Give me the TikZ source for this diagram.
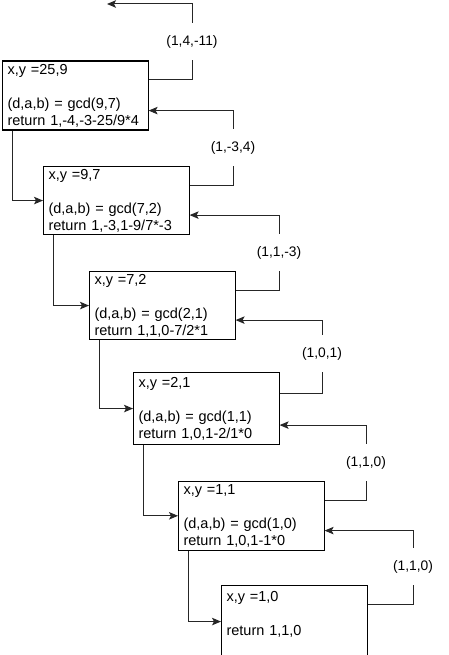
\documentclass[tikz,border=0pt]{standalone}
\usepackage{fontspec}
\setmainfont{Liberation Sans}
\usetikzlibrary{arrows.meta}
\begin{document}
\begin{tikzpicture}[x=1pt,y=-1pt,
  callbox/.style={draw=black,line width=1.1pt,anchor=north west,
    minimum width=145.5pt,text width=135.5pt,inner xsep=5pt,inner ysep=0pt,
    align=left,font=\fontsize{14.5}{16.9}\selectfont},
  retlabel/.style={inner sep=0pt,minimum height=37pt,font=\fontsize{13.8}{16}\selectfont},
  conn/.style={line width=1pt,draw=black!85},
  arr/.style={conn,-{Stealth[length=9pt,width=7.5pt,inset=2pt]}}
]
\useasboundingbox (0,0) rectangle (448,655);
\clip (0,0) rectangle (448,655);

% boxes
\node[callbox,minimum height=69pt] (B1) at (2,60.5)
  {x,y =25,9\\ \mbox{}\\ (d,a,b) = gcd(9,7)\\ return 1,-4,-3-25/9*4};
\node[callbox,minimum height=68pt] (B2) at (43,166)
  {x,y =9,7\\ \mbox{}\\ (d,a,b) = gcd(7,2)\\ return 1,-3,1-9/7*-3};
\node[callbox,minimum height=68pt] (B3) at (89,271)
  {x,y =7,2\\ \mbox{}\\ (d,a,b) = gcd(2,1)\\ return 1,1,0-7/2*1};
\node[callbox,minimum height=72pt] (B4) at (133,372)
  {x,y =2,1\\ \mbox{}\\ (d,a,b) = gcd(1,1)\\ return 1,0,1-2/1*0};
\node[callbox,minimum height=68.5pt] (B5) at (178,481)
  {x,y =1,1\\ \mbox{}\\ (d,a,b) = gcd(1,0)\\ return 1,0,1-1*0};
\node[callbox,minimum height=72pt] (B6) at (221,585)
  {x,y =1,0\\ \mbox{}\\ return 1,1,0\\ \mbox{}};

% return labels
\node[retlabel] (L1) at (192,41.5) {(1,4,-11)};
\node[retlabel] (L2) at (233,147.5) {(1,-3,4)};
\node[retlabel] (L3) at (279,252.5) {(1,1,-3)};
\node[retlabel] (L4) at (322,353.5) {(1,0,1)};
\node[retlabel] (L5) at (366,462.5) {(1,1,0)};
\node[retlabel] (L6) at (413,566.5) {(1,1,0)};
\coordinate (top) at (107,4);

% call connectors
\draw[arr] ([xshift=10pt]B1.south west) |- (B2.west);
\draw[arr] ([xshift=10pt]B2.south west) |- (B3.west);
\draw[arr] ([xshift=10pt]B3.south west) |- (B4.west);
\draw[arr] ([xshift=10pt]B4.south west) |- (B5.west);
\draw[arr] ([xshift=10pt]B5.south west) |- (B6.west);

% return connectors
\draw[conn] ([yshift=-19pt]B1.north east) -| (L1.south);
\draw[arr] (L1.north) |- (top);
\draw[conn] ([yshift=-19pt]B2.north east) -| (L2.south);
\draw[arr] (L2.north) |- ([yshift=20pt]B1.south east);
\draw[conn] ([yshift=-19pt]B3.north east) -| (L3.south);
\draw[arr] (L3.north) |- ([yshift=20pt]B2.south east);
\draw[conn] ([yshift=-21pt]B4.north east) -| (L4.south);
\draw[arr] (L4.north) |- ([yshift=20pt]B3.south east);
\draw[conn] ([yshift=-19pt]B5.north east) -| (L5.south);
\draw[arr] (L5.north) |- ([yshift=20pt]B4.south east);
\draw[conn] ([yshift=-19pt]B6.north east) -| (L6.south);
\draw[arr] (L6.north) |- ([yshift=20pt]B5.south east);
\end{tikzpicture}
\end{document}
